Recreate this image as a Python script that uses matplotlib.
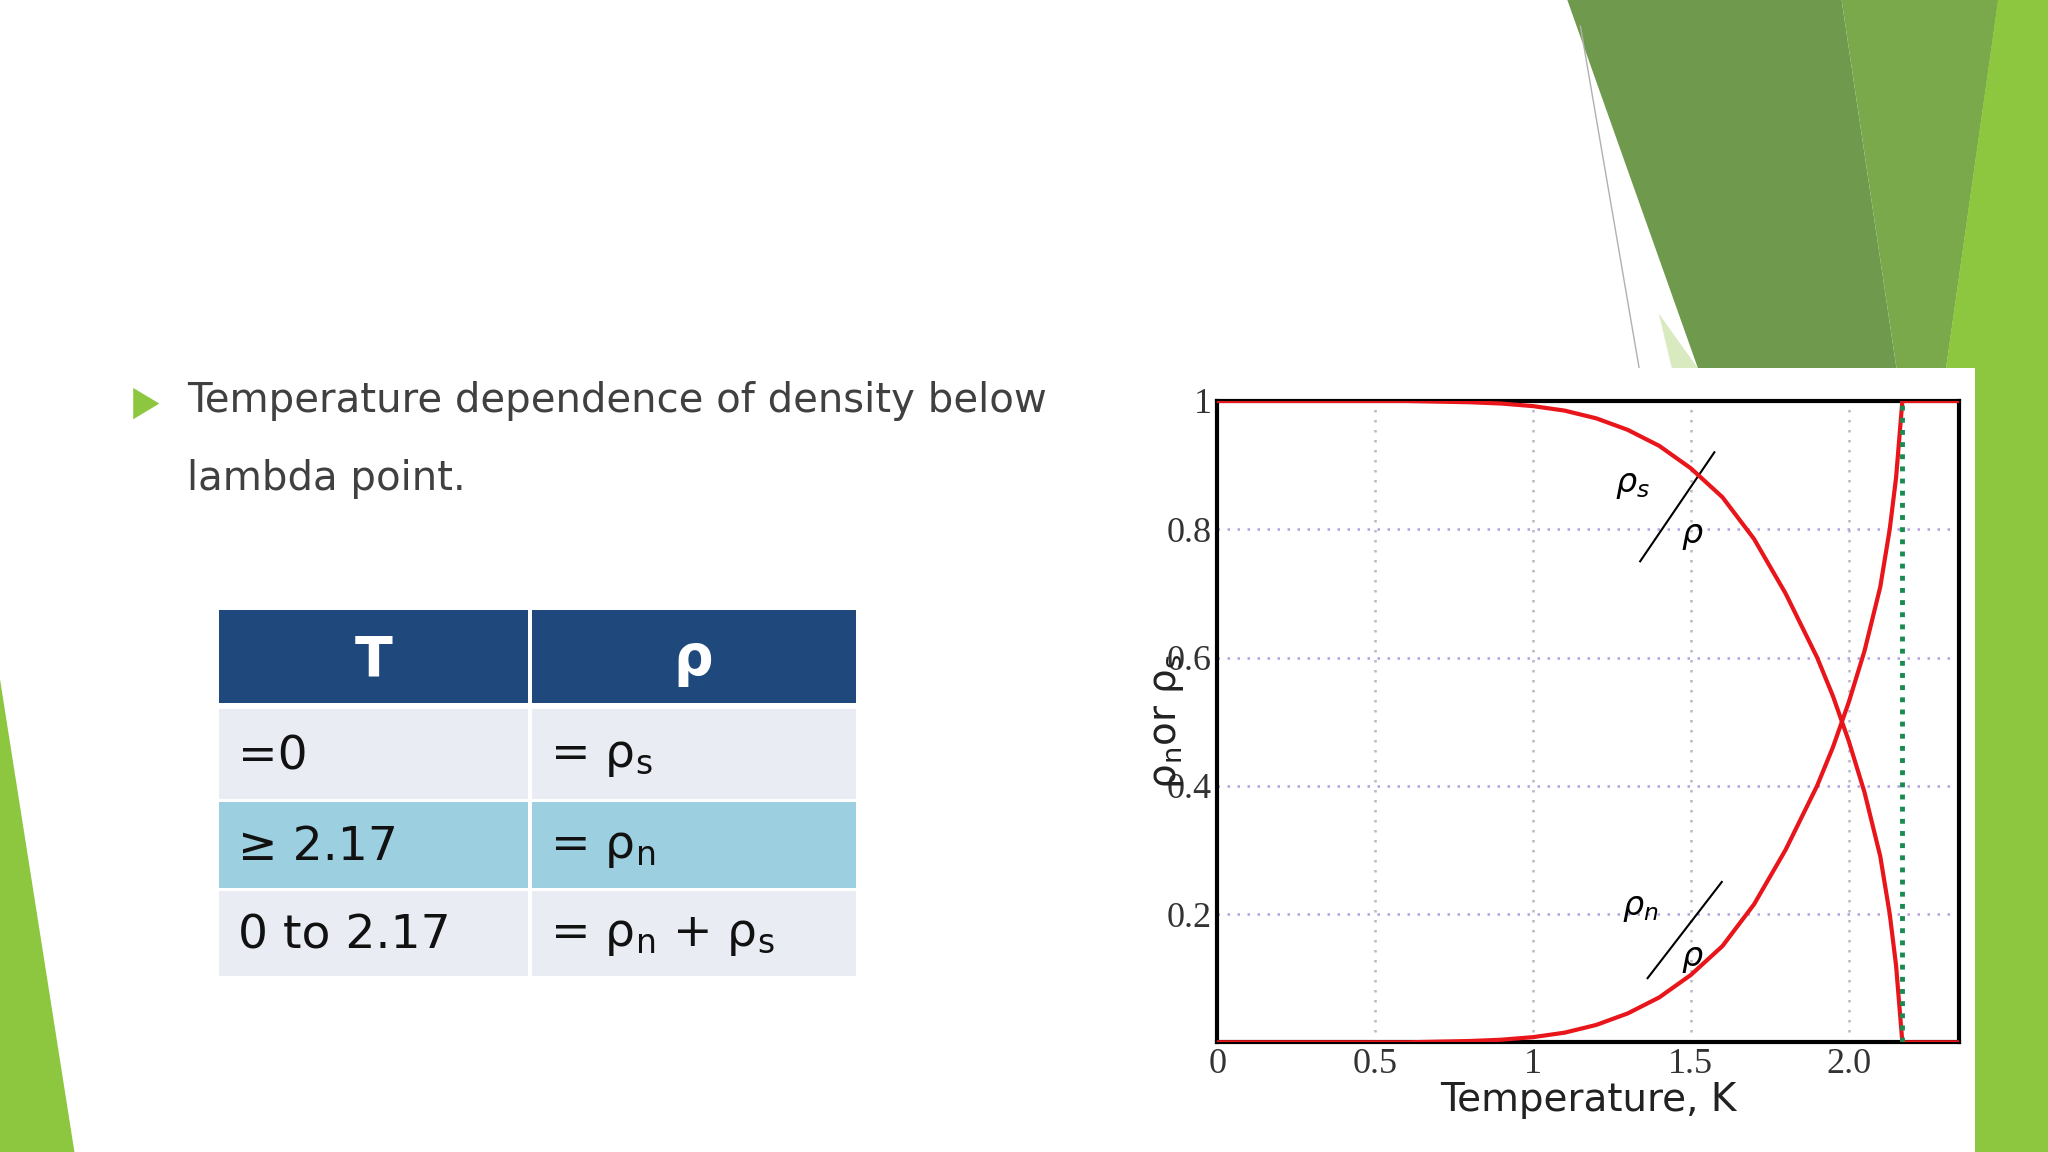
import matplotlib
matplotlib.use("Agg")
import matplotlib.pyplot as plt
from matplotlib.patches import Polygon, Rectangle

# ---- data ----
T = [0, 0.6, 0.8, 0.9, 1.0, 1.1, 1.2, 1.3, 1.4, 1.5, 1.6, 1.7, 1.8, 1.9, 1.95, 2.0, 2.05, 2.1, 2.13, 2.15, 2.17]
rho_n = [0, 0, 0.002, 0.004, 0.008, 0.015, 0.027, 0.045, 0.07, 0.105, 0.15, 0.215, 0.3, 0.4, 0.46, 0.53, 0.61, 0.71, 0.8, 0.88, 1.0]
rho_s = [1 - v for v in rho_n]
T_lambda = 2.17
x_ticks = [0, 0.5, 1, 1.5, 2.0]
x_tick_labels = ["0", "0.5", "1", "1.5", "2.0"]
y_ticks = [0.2, 0.4, 0.6, 0.8, 1.0]
y_tick_labels = ["0.2", "0.4", "0.6", "0.8", "1"]
table_rows = [["T", "ρ"], ["=0", r"= $\mathregular{ρ_s}$"], ["≥ 2.17", r"= $\mathregular{ρ_n}$"],
              ["0 to 2.17", r"= $\mathregular{ρ_n}$ + $\mathregular{ρ_s}$"]]

W, H = 1568, 882
fig = plt.figure(figsize=(20.48, 11.52), dpi=100)
bg = fig.add_axes([0, 0, 1, 1])
bg.set_xlim(0, W); bg.set_ylim(H, 0); bg.axis("off")

def poly(pts, c, z=1):
    bg.add_patch(Polygon(pts, closed=True, color=c, zorder=z, lw=0))

poly([(1200, 0), (1410, 0), (1452, 282), (1300, 282)], "#6f9a4e")
poly([(1410, 0), (1530, 0), (1490, 282), (1452, 282)], "#79a94a")
poly([(1530, 0), (1568, 0), (1568, 882), (1512, 882), (1512, 282), (1490, 282)], "#8dc63f")
poly([(1270, 240), (1300, 282), (1280, 282)], "#d9eac0")
bg.plot([1210, 1255], [20, 282], color="#b0b0b0", lw=1)
poly([(0, 520), (57, 882), (0, 882)], "#8dc63f")

# bullet
poly([(102, 297), (102, 321), (122, 309)], "#8dc63f")
bg.text(143, 307, "Temperature dependence of density below", fontsize=29, color="#404040",
        va="center", family="DejaVu Sans")
bg.text(143, 367, "lambda point.", fontsize=29, color="#404040", va="center", family="DejaVu Sans")

# table
cols = [(168, 404), (407, 655)]
rows = [(467, 538, "#1f497d"), (543, 612, "#e9ecf3"), (614, 680, "#9ccfe0"), (682, 747, "#e9ecf3")]
for ri, (y0, y1, c) in enumerate(rows):
    for ci, (x0, x1) in enumerate(cols):
        bg.add_patch(Rectangle((x0, y0), x1 - x0, y1 - y0, color=c, lw=0))
        txt = table_rows[ri][ci]
        if ri == 0:
            bg.text((x0 + x1) / 2, (y0 + y1) / 2 + 3, txt, fontsize=40, color="white",
                    weight="bold", ha="center", va="center")
        else:
            bg.text(x0 + 14, (y0 + y1) / 2 + 2, txt, fontsize=34, color="#111111",
                    ha="left", va="center")

# chart
bg.add_patch(Rectangle((860, 282), 652, 600, color="white", lw=0, zorder=2))
ax = fig.add_axes([932 / W, 1 - 798 / H, (1500 - 932) / W, (798 - 307) / H])
ax.set_zorder(5)
ax.set_xlim(0, 2.35); ax.set_ylim(0, 1)
for v in x_ticks[1:]:
    ax.axvline(v, color="#b8b8c8", ls=(0, (1, 3)), lw=1.8, zorder=1)
for v in y_ticks[:-1]:
    ax.axhline(v, color="#b0a0e0", ls=(0, (1, 3)), lw=1.8, zorder=1)
ax.plot(T + [2.35], rho_n + [1.0], color="#e8151b", lw=3, zorder=3)
ax.plot(T + [2.35], rho_s + [0.0], color="#e8151b", lw=3, zorder=3)
ax.axvline(T_lambda, color="#1a8a50", ls=(0, (1, 1.5)), lw=3.5, zorder=4)
ax.set_xticks(x_ticks, x_tick_labels, family="Liberation Serif", fontsize=26, color="#333333")
ax.set_yticks(y_ticks, y_tick_labels, family="Liberation Serif", fontsize=26, color="#333333")
ax.tick_params(length=0, pad=4)
for s in ax.spines.values():
    s.set_linewidth(3); s.set_color("black")
ax.set_xlabel("Temperature, K", fontsize=28, color="#222222", labelpad=0)
ax.set_ylabel(r"$\mathregular{ρ_n}$or $\mathregular{ρ_s}$", fontsize=28, color="#222222", labelpad=-14)

# annotations
def frac(x, y, xt, yt, sub, lx):
    ax.text(x, y, r"$\rho_{%s}$" % sub, transform=ax.transAxes, fontsize=24, ha="center", va="center")
    ax.text(xt, yt, r"$\rho$", transform=ax.transAxes, fontsize=24, ha="center", va="center")
    ax.plot(lx[0], lx[1], transform=ax.transAxes, color="black", lw=1.5)

frac(0.56, 0.87, 0.64, 0.79, "s", ([0.57, 0.67], [0.75, 0.92]))
frac(0.57, 0.21, 0.64, 0.13, "n", ([0.58, 0.68], [0.10, 0.25]))

fig.savefig("out.png", dpi=100)
